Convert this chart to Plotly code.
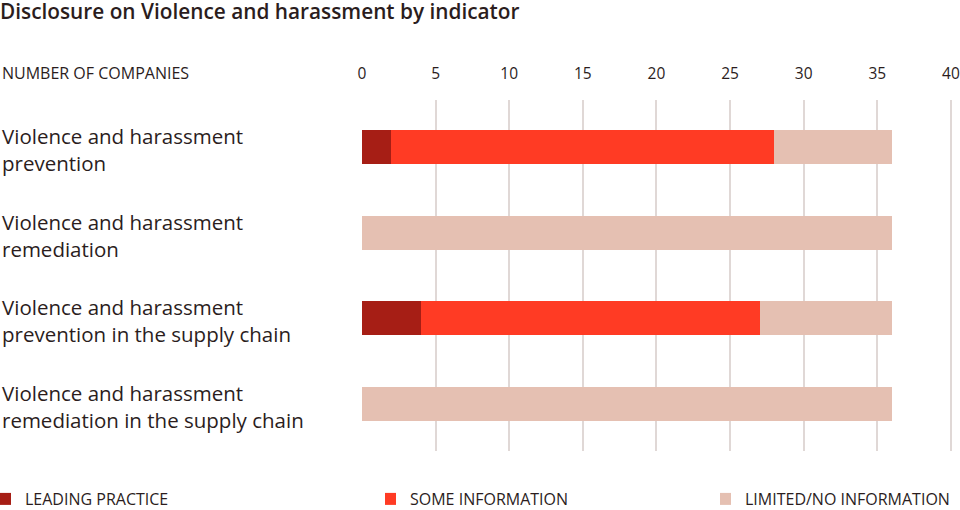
import plotly.graph_objects as go

categories = [
    "Violence and harassment<br>prevention",
    "Violence and harassment<br>remediation",
    "Violence and harassment<br>prevention in the supply chain",
    "Violence and harassment<br>remediation in the supply chain",
]
series_names = ["LEADING PRACTICE", "SOME INFORMATION", "LIMITED/NO INFORMATION"]
leading = [2, 0, 4, 0]
some_info = [26, 0, 23, 0]
limited = [8, 36, 9, 36]
tick_vals = [0, 5, 10, 15, 20, 25, 30, 35, 40]

colors = ["#a61e15", "#ff3b24", "#e5c0b2"]
text_color = "#2b1d1d"
font_family = "Open Sans, sans-serif"

W, H = 960, 510
ml, mr, mt, mb = 362, 2, 100, 59
x_max = 40.48
pw, ph = W - ml - mr, H - mt - mb

def px_to_paper_x(px):
    return (px - ml) / pw

def px_to_paper_y(py):
    return (H - mb - py) / ph

fig = go.Figure()
legend_ids = ["legend", "legend2", "legend3"]
for name, vals, col, lg in zip(series_names, [leading, some_info, limited], colors, legend_ids):
    fig.add_trace(go.Bar(
        y=list(range(len(categories))), x=vals, name=name, orientation="h",
        marker=dict(color=col, line=dict(width=0)), width=0.4,
        legend=lg, hoverinfo="x+name",
    ))

legend_px = [0, 385, 720]
common_leg = dict(orientation="h", yanchor="middle", xanchor="left",
                  font=dict(family=font_family, size=16, color=text_color),
                  bgcolor="rgba(0,0,0,0)", borderwidth=0, itemclick=False,
                  itemdoubleclick=False, indentation=-15, tracegroupgap=0)
for lg, lx in zip(legend_ids, legend_px):
    fig.update_layout({lg: dict(x=px_to_paper_x(lx), y=px_to_paper_y(499), **common_leg)})

for i, c in enumerate(categories):
    fig.add_annotation(x=px_to_paper_x(0), xref="paper", y=i, yref="y",
                       text=c, showarrow=False, xanchor="left", yanchor="middle",
                       align="left", yshift=-2.5,
                       font=dict(family=font_family, size=20.5, color=text_color))

fig.add_annotation(x=px_to_paper_x(0), xref="paper", y=px_to_paper_y(73), yref="paper",
                   text="NUMBER OF COMPANIES", showarrow=False, xanchor="left",
                   yanchor="middle",
                   font=dict(family=font_family, size=16, color=text_color))

fig.update_layout(
    width=W, height=H,
    margin=dict(l=ml, r=mr, t=mt, b=mb, autoexpand=False),
    barmode="stack",
    plot_bgcolor="white", paper_bgcolor="white",
    title=dict(text="Disclosure on Violence and harassment by indicator",
               x=0, xref="container", xanchor="left", y=1, yref="container",
               yanchor="top", pad=dict(t=4, l=0, b=0, r=0),
               font=dict(family=font_family, size=20.8, color=text_color, weight=600)),
    showlegend=True,
    xaxis=dict(range=[0, x_max], side="top", tickvals=tick_vals,
               ticktext=[str(t) for t in tick_vals],
               showgrid=True, gridcolor="#e0d8d6", gridwidth=1.5,
               zeroline=False, showline=False, ticks="",
               ticklabelstandoff=17, ticklabeloverflow="allow",
               tickfont=dict(family=font_family, size=15.5, color=text_color),
               fixedrange=True),
    yaxis=dict(range=[3.55, -0.55], showticklabels=False, showgrid=False,
               zeroline=False, showline=False, fixedrange=True),
)

fig.write_html("out.html")
